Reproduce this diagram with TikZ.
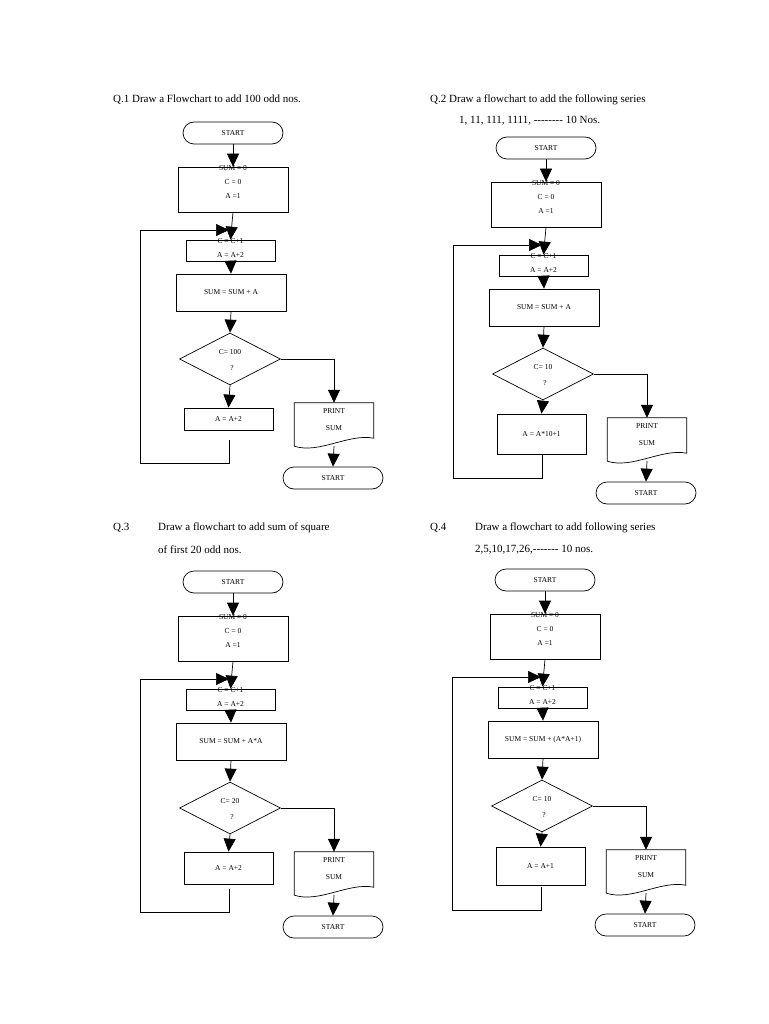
\documentclass[tikz,border=0pt]{standalone}
\usepackage{fontspec}
\setmainfont{Liberation Serif}
\usetikzlibrary{arrows.meta,shapes.geometric}
\tikzset{
  tip/.style={-{Triangle[width=12pt,length=13pt]}},
  ln/.style={draw, line width=0.7pt},
  box/.style={draw, line width=0.7pt, inner sep=0pt, font=\fontsize{7.5}{8.5}\selectfont},
  term/.style={box, rounded corners=11pt, minimum width=100pt, minimum height=22pt},
  txt/.style={inner sep=0pt, font=\fontsize{7.5}{8.5}\selectfont},
  ttl/.style={inner sep=0pt, anchor=west, font=\fontsize{11}{13}\selectfont},
}
\newcommand\myflow[7]{%
\begin{scope}[shift={(#1,#2)}]
  \node[term] (#3s) at (233,133) {START};
  \node[box, minimum width=110pt, minimum height=45pt] (#3i) at (233,189.5) {};
  \node[txt] (#3i1) at (233,168) {SUM = 0};
  \node[txt] (#3i2) at (233,182) {C = 0};
  \node[txt] (#3i3) at (233,196) {A =1};
  \node[box, minimum width=89pt, minimum height=21pt] (#3b) at (230.5,250.5) {};
  \node[txt] (#3b1) at (230.5,241) {C = C+1};
  \node[txt] (#3b2) at (230.5,255) {A = A+2};
  \node[box, minimum width=110pt, minimum height=37pt] (#3c) at (231,292.5) {#4};
  \node[draw, line width=0.7pt, diamond, inner sep=0pt, minimum width=101pt, minimum height=52pt] (#3d) at (230,359) {};
  \node[txt] (#3d1) at (230,352) {#6};
  \node[txt] (#3d2) at (232,368) {?};
  \node[box, minimum width=89pt, minimum height=#7] (#3a) at (228.5,419) {#5};
  \node[inner sep=0pt, minimum width=79pt, minimum height=47pt] (#3p) at (334,426.5) {};
  \draw[line width=0.7pt] (#3p.north west) -- (#3p.north east) -- ([yshift=12pt]#3p.south east)
     .. controls ([xshift=-25pt,yshift=17pt]#3p.south east) and ([xshift=25pt,yshift=-4pt]#3p.south west) .. ([yshift=4pt]#3p.south west) -- cycle;
  \node[txt] (#3p1) at (334,411) {PRINT};
  \node[txt] (#3p2) at (334,428) {SUM};
  \node[term] (#3e) at (333,478) {START};
  \draw[ln,tip] (#3s) -- (#3i.north);
  \draw[ln,tip] (#3i.south) -- (#3b.north);
  \draw[ln,tip] (#3b.south) -- (#3c.north);
  \draw[ln,tip] (#3c.south) -- (#3d.north);
  \draw[ln,tip] (#3d.east) -| (#3p.north);
  \draw[ln,tip] (#3d.south) -- (#3a.north);
  \draw[ln,tip] ([yshift=4pt]#3p.south) -- (#3e.north);
  \coordinate (#3l) at (229,440);
  \draw[ln,tip] (#3l) -- (229,463) -- (140,463) -- (140,230) -- (229,230);
\end{scope}}
\begin{document}
\begin{tikzpicture}[x=1pt,y=-1pt]
\useasboundingbox[fill=white] (0,0) rectangle (768,1024);
\node[ttl] (t1) at (113,100) {Q.1 Draw a Flowchart to add 100 odd nos.};
\node[ttl] (t2) at (430,100) {Q.2 Draw a flowchart to add the following series};
\node[ttl] (t2b) at (459,121) {1, 11, 111, 1111, -{}-{}-{}-{}-{}-{}-{}- 10 Nos.};
\node[ttl] (t3) at (113,528) {Q.3};
\node[ttl] (t3a) at (158,528) {Draw a flowchart to add sum of square};
\node[ttl] (t3b) at (158,550) {of first 20 odd nos.};
\node[ttl] (t4) at (430,528) {Q.4};
\node[ttl] (t4a) at (475,528) {Draw a flowchart to add following series};
\node[ttl] (t4b) at (475,550) {2,5,10,17,26,-{}-{}-{}-{}-{}-{}- 10 nos.};
\myflow{0}{0}{q1}{SUM = SUM + A}{A = A+2}{C= 100}{22pt}
\myflow{313}{15}{q2}{SUM = SUM + A}{A = A*10+1}{C= 10}{40pt}
\myflow{0}{449}{q3}{SUM = SUM + A*A}{A = A+2}{C= 20}{32pt}
\myflow{312}{447}{q4}{SUM = SUM + (A*A+1)}{A = A+1}{C= 10}{38pt}
\end{tikzpicture}
\end{document}
